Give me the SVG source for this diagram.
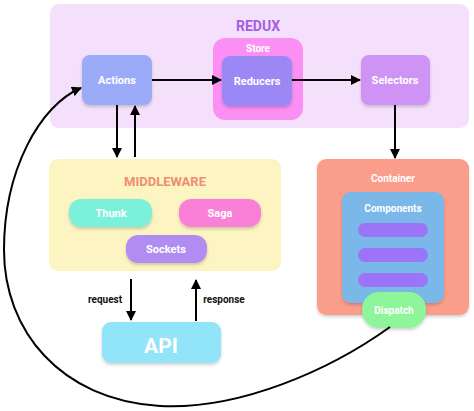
<svg xmlns="http://www.w3.org/2000/svg" width="474" height="411" viewBox="0 0 474 411">
<style>
text{font-family:Roboto,"Liberation Sans",sans-serif;font-weight:bold;text-anchor:middle;dominant-baseline:central}
.w{fill:#ffffff;font-size:11px}
.lbl{fill:#111;font-size:10px}
.c{stroke:#000;stroke-width:2;fill:none}
.sh{filter:url(#ds)}
</style>
<defs>
<filter id="ds" x="-20%" y="-20%" width="140%" height="150%">
<feDropShadow dx="0" dy="2" stdDeviation="1.5" flood-color="#000" flood-opacity="0.18"/>
</filter>
<marker id="ah" viewBox="0 0 10 10" refX="9" refY="5" markerWidth="5" markerHeight="5" orient="auto">
<path d="M0,0 L10,5 L0,10 z" fill="#000"/>
</marker>
</defs>
<g id="redux">
<rect x="50" y="4" width="419" height="124" rx="9" fill="#f4e0fb"/>
<text x="258" y="26" style="font-size:14px;fill:#a45de6">REDUX</text>
</g>
<g id="store">
<rect x="213" y="38" width="90" height="82" rx="12" fill="#fb8ff4"/>
<text class="w" x="258" y="48" style="font-size:10px">Store</text>
</g>
<g id="actions">
<rect class="sh" x="82" y="55" width="70" height="50" rx="8" fill="#9cabf8"/>
<text class="w" x="117" y="80">Actions</text>
</g>
<g id="reducers">
<rect class="sh" x="222" y="56" width="70" height="50" rx="8" fill="#9b88f5"/>
<text class="w" x="257" y="81">Reducers</text>
</g>
<g id="selectors">
<rect class="sh" x="361" y="55" width="69" height="50" rx="8" fill="#cf93f6"/>
<text class="w" x="395" y="80">Selectors</text>
</g>
<g id="middleware">
<rect x="49" y="159" width="232" height="112" rx="9" fill="#fcf4c1"/>
<text x="165" y="181" style="font-size:13px;fill:#f08c74">MIDDLEWARE</text>
</g>
<g id="thunk">
<rect class="sh" x="69" y="199" width="83" height="28" rx="12" fill="#7cf1da"/>
<text class="w" x="111" y="213">Thunk</text>
</g>
<g id="saga">
<rect class="sh" x="179" y="199" width="82" height="28" rx="12" fill="#fa80d7"/>
<text class="w" x="220" y="213">Saga</text>
</g>
<g id="sockets">
<rect class="sh" x="126" y="235" width="81" height="28" rx="12" fill="#b18df1"/>
<text class="w" x="166" y="249">Sockets</text>
</g>
<g id="api">
<rect class="sh" x="102" y="322" width="119" height="41" rx="9" fill="#92e5f8"/>
<text class="w" x="161" y="346" style="font-size:21px">API</text>
</g>
<g id="container">
<rect class="sh" x="317" y="159" width="152" height="156" rx="9" fill="#fb9d8b"/>
<text class="w" x="393" y="178" style="font-size:10px">Container</text>
</g>
<g id="components">
<rect class="sh" x="342" y="192" width="102" height="111" rx="9" fill="#7ab8ea"/>
<text class="w" x="393" y="208" style="font-size:10px">Components</text>
<rect x="358" y="223" width="70" height="14" rx="7" fill="#9c74f7"/>
<rect x="358" y="248" width="70" height="14" rx="7" fill="#9c74f7"/>
<rect x="358" y="273" width="70" height="14" rx="7" fill="#9c74f7"/>
</g>
<g id="dispatch">
<rect class="sh" x="362" y="292" width="64" height="36" rx="17" fill="#8ff59b"/>
<text class="w" x="394" y="310" style="font-size:10px">Dispatch</text>
</g>
<g id="connectors">
<line class="c" x1="152" y1="80" x2="221" y2="80" marker-end="url(#ah)"/>
<line class="c" x1="292" y1="80" x2="360" y2="80" marker-end="url(#ah)"/>
<line class="c" x1="395" y1="105" x2="395" y2="158" marker-end="url(#ah)"/>
<line class="c" x1="117" y1="105" x2="117" y2="157" marker-end="url(#ah)"/>
<line class="c" x1="135" y1="157" x2="135" y2="106" marker-end="url(#ah)"/>
<line class="c" x1="131" y1="279" x2="131" y2="320" marker-end="url(#ah)"/>
<line class="c" x1="196" y1="321" x2="196" y2="280" marker-end="url(#ah)"/>
<path class="c" d="M390,327 C330,370 240,410 160,406 C60,400 4,330 4,250 C4,170 40,105 81,88" marker-end="url(#ah)"/>
<text class="lbl" x="105" y="299">request</text>
<text class="lbl" x="224" y="299">response</text>
</g>
</svg>
